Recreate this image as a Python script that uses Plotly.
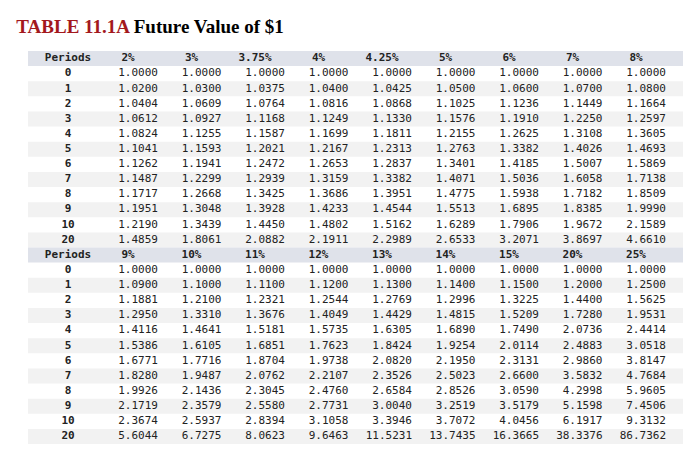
import plotly.graph_objects as go

periods = ["0", "1", "2", "3", "4", "5", "6", "7", "8", "9", "10", "20"]

rates_a = ["2%", "3%", "3.75%", "4%", "4.25%", "5%", "6%", "7%", "8%"]
fv_a = [
    ["1.0000", "1.0200", "1.0404", "1.0612", "1.0824", "1.1041", "1.1262", "1.1487", "1.1717", "1.1951", "1.2190", "1.4859"],
    ["1.0000", "1.0300", "1.0609", "1.0927", "1.1255", "1.1593", "1.1941", "1.2299", "1.2668", "1.3048", "1.3439", "1.8061"],
    ["1.0000", "1.0375", "1.0764", "1.1168", "1.1587", "1.2021", "1.2472", "1.2939", "1.3425", "1.3928", "1.4450", "2.0882"],
    ["1.0000", "1.0400", "1.0816", "1.1249", "1.1699", "1.2167", "1.2653", "1.3159", "1.3686", "1.4233", "1.4802", "2.1911"],
    ["1.0000", "1.0425", "1.0868", "1.1330", "1.1811", "1.2313", "1.2837", "1.3382", "1.3951", "1.4544", "1.5162", "2.2989"],
    ["1.0000", "1.0500", "1.1025", "1.1576", "1.2155", "1.2763", "1.3401", "1.4071", "1.4775", "1.5513", "1.6289", "2.6533"],
    ["1.0000", "1.0600", "1.1236", "1.1910", "1.2625", "1.3382", "1.4185", "1.5036", "1.5938", "1.6895", "1.7906", "3.2071"],
    ["1.0000", "1.0700", "1.1449", "1.2250", "1.3108", "1.4026", "1.5007", "1.6058", "1.7182", "1.8385", "1.9672", "3.8697"],
    ["1.0000", "1.0800", "1.1664", "1.2597", "1.3605", "1.4693", "1.5869", "1.7138", "1.8509", "1.9990", "2.1589", "4.6610"],
]

rates_b = ["9%", "10%", "11%", "12%", "13%", "14%", "15%", "20%", "25%"]
fv_b = [
    ["1.0000", "1.0900", "1.1881", "1.2950", "1.4116", "1.5386", "1.6771", "1.8280", "1.9926", "2.1719", "2.3674", "5.6044"],
    ["1.0000", "1.1000", "1.2100", "1.3310", "1.4641", "1.6105", "1.7716", "1.9487", "2.1436", "2.3579", "2.5937", "6.7275"],
    ["1.0000", "1.1100", "1.2321", "1.3676", "1.5181", "1.6851", "1.8704", "2.0762", "2.3045", "2.5580", "2.8394", "8.0623"],
    ["1.0000", "1.1200", "1.2544", "1.4049", "1.5735", "1.7623", "1.9738", "2.2107", "2.4760", "2.7731", "3.1058", "9.6463"],
    ["1.0000", "1.1300", "1.2769", "1.4429", "1.6305", "1.8424", "2.0820", "2.3526", "2.6584", "3.0040", "3.3946", "11.5231"],
    ["1.0000", "1.1400", "1.2996", "1.4815", "1.6890", "1.9254", "2.1950", "2.5023", "2.8526", "3.2519", "3.7072", "13.7435"],
    ["1.0000", "1.1500", "1.3225", "1.5209", "1.7490", "2.0114", "2.3131", "2.6600", "3.0590", "3.5179", "4.0456", "16.3665"],
    ["1.0000", "1.2000", "1.4400", "1.7280", "2.0736", "2.4883", "2.9860", "3.5832", "4.2998", "5.1598", "6.1917", "38.3376"],
    ["1.0000", "1.2500", "1.5625", "1.9531", "2.4414", "3.0518", "3.8147", "4.7684", "5.9605", "7.4506", "9.3132", "86.7362"],
]

HEAD = "#dfe2ea"
EVEN = "#f2f2f2"
FONT = dict(family="DejaVu Sans Mono", size=11, color="#222")

# table drawn on a pixel-like x axis (20..675) and a row-index y axis
n = len(periods)
col_right = [150 + 63.5 * i for i in range(9)]  # right edge of each value column
period_x = 60

fig = go.Figure()
shapes = []

def block(start, rates, data):
    # header row
    shapes.append(dict(type="rect", xref="paper", yref="y", x0=0, x1=1,
                       y0=start - 0.5, y1=start + 0.5, fillcolor=HEAD, line_width=0, layer="below"))
    fig.add_trace(go.Scatter(
        x=[period_x] + [r - 30 for r in col_right], y=[start] * 10,
        text=["<b>Periods</b>"] + ["<b>%s</b>" % r for r in rates],
        mode="text", textposition="middle center", textfont=FONT, hoverinfo="skip"))
    rows = [start + 1 + i for i in range(n)]
    for i, y in enumerate(rows):
        if i % 2 == 1:
            shapes.append(dict(type="rect", xref="paper", yref="y", x0=0, x1=1,
                               y0=y - 0.5, y1=y + 0.5, fillcolor=EVEN, line_width=0, layer="below"))
    fig.add_trace(go.Scatter(
        x=[period_x] * n, y=rows, text=["<b>%s</b>" % p for p in periods],
        mode="text", textposition="middle center", textfont=FONT, hoverinfo="skip"))
    for j, col in enumerate(data):
        fig.add_trace(go.Scatter(
            x=[col_right[j]] * n, y=rows, text=col,
            mode="text", textposition="middle left", textfont=FONT, hoverinfo="skip"))

block(0, rates_a, fv_a)
block(n + 1, rates_b, fv_b)

fig.update_layout(
    width=695, height=460,
    margin=dict(l=20, r=20, t=43, b=24),
    paper_bgcolor="white", plot_bgcolor="white",
    showlegend=False,
    shapes=shapes,
    xaxis=dict(range=[20, 675], visible=False, fixedrange=True),
    yaxis=dict(range=[2 * n + 1.5, -0.5], visible=False, fixedrange=True),
    title=dict(
        text="<b><span style='color:#a3181d'>TABLE 11.1A</span> Future Value of $1</b>",
        x=0.012, xanchor="left", y=0.975, yanchor="top",
        font=dict(family="Liberation Serif", size=19, color="black"),
    ),
)

fig.write_html("out.html")
